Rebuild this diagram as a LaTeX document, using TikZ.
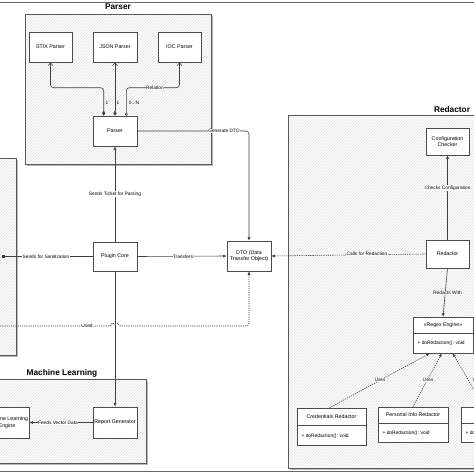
\documentclass[tikz,border=0pt]{standalone}
\usepackage{fontspec}
\setmainfont{Liberation Sans}
\usetikzlibrary{arrows.meta,patterns,calc}
\begin{document}
\begin{tikzpicture}[x=1pt,y=-1pt,
  container/.style={draw=black!65, line width=0.6pt, pattern=north east lines, pattern color=black!12},
  shadowc/.style={fill=black!28},
  box/.style={draw=black!70, fill=white, line width=0.6pt, align=center, inner sep=1pt, font=\fontsize{5.3}{6.3}\selectfont},
  lbl/.style={fill=white, inner sep=0.4pt, font=\fontsize{4.8}{5.5}\selectfont},
  ttl/.style={font=\fontsize{8.3}{9}\selectfont\bfseries},
  conn/.style={draw=black!75, line width=0.6pt},
  dconn/.style={draw=black!75, line width=0.6pt, dash pattern=on 1.2pt off 1pt},
  tip/.style={-{Latex[length=3.5pt,width=3pt]}},
]
\useasboundingbox (0,0) rectangle (474,474);
\clip (0,0) rectangle (474,474);
\fill[white] (0,0) rectangle (474,474);
% frame lines
\draw[black!60, line width=0.8pt] (0,2) -- (474,2);
\draw[black!60, line width=0.8pt] (0,471) -- (474,471);

% containers
\fill[shadowc] (27,16) rectangle (213,166);
\fill[white] (25,14) rectangle (211,164);
\draw[container] (25,14) rectangle (211,164);
\node[ttl] (tparser) at (118,7) {Parser};

\fill[shadowc] (-10,160) rectangle (18,357);
\fill[white] (-10,158) rectangle (16,355);
\draw[container] (-10,158) rectangle (16,355);

\fill[shadowc] (-10,381) rectangle (148,465);
\fill[white] (-10,379) rectangle (146,463);
\draw[container] (-10,379) rectangle (146,463);
\node[ttl] (tml) at (62,373) {Machine Learning};

\fill[shadowc] (290,117) rectangle (492,470);
\fill[white] (288,115) rectangle (490,468);
\draw[container] (288,115) rectangle (490,468);
\node[ttl] (tred) at (452,110) {Redactor};

% nodes
\node[box, minimum width=43pt, minimum height=30pt] (stix) at (50.5,47) {STIX Parser};
\node[box, minimum width=44pt, minimum height=30pt] (json) at (115,47) {JSON Parser};
\node[box, minimum width=43pt, minimum height=30pt] (ioc) at (179.5,47) {IOC Parser};
\node[box, minimum width=44pt, minimum height=30pt] (parser) at (115,131) {Parser};
\node[box, minimum width=44pt, minimum height=29pt] (plugin) at (115,256.5) {Plugin Core};
\node[box, minimum width=44pt, minimum height=30pt] (dto) at (249,256) {DTO (Data\\Transfer Object)};
\node[box, minimum width=44pt, minimum height=31pt] (report) at (115,422.5) {Report Generator};
\node[box, minimum width=44pt, minimum height=31pt] (mle) at (7,422.5) {Machine Learning\\Engine};
\node[box, minimum width=43pt, minimum height=27pt] (config) at (447.5,141.5) {Configuration\\Checker};
\node[box, minimum width=43pt, minimum height=28pt] (redactor) at (447.5,254) {Redactor};

% class boxes
\node[box, minimum width=60pt, minimum height=36pt] (regex) at (443,335) {};
\draw[black!70, line width=0.6pt] (regex.west |- 0,333) -- (regex.east |- 0,333);
\node[font=\fontsize{5.2}{6}\selectfont] (regext) at (443,325) {<<Regex Engine>>};
\node[font=\fontsize{4.9}{6}\selectfont, anchor=west] (regexm) at (414,343) {+ doRedaction(): void};

\node[box, minimum width=69pt, minimum height=37pt] (cred) at (331.5,426.5) {};
\draw[black!70, line width=0.6pt] (cred.west |- 0,425) -- (cred.east |- 0,425);
\node[font=\fontsize{5.3}{6}\selectfont] (credt) at (331.5,417) {Credentials Redactor};
\node[font=\fontsize{4.9}{6}\selectfont, anchor=west] (credm) at (298,436) {+ doRedaction(): void};

\node[box, minimum width=70pt, minimum height=35pt] (pinfo) at (413,424.5) {};
\draw[black!70, line width=0.6pt] (pinfo.west |- 0,423) -- (pinfo.east |- 0,423);
\node[font=\fontsize{5.3}{6}\selectfont] (pinfot) at (413,414.5) {Personal Info Redactor};
\node[font=\fontsize{4.9}{6}\selectfont, anchor=west] (pinfom) at (379,433) {+ doRedaction(): void};

\node[box, minimum width=70pt, minimum height=35pt] (third) at (496,424.5) {};
\draw[black!70, line width=0.6pt] (third.west |- 0,423) -- (third.east |- 0,423);
\node[font=\fontsize{4.9}{6}\selectfont, anchor=west] (thirdm) at (462,433) {+ doRedaction(): void};

% parser composition connectors
\draw[conn, {Diamond[length=5pt,width=3.2pt]}-{Straight Barb[length=3pt,width=5pt]}, rounded corners=3pt]
  ($(parser.north west)+(11,0)$) -- ($(parser.north west)+(11,-28)$) -| (stix.south);
\draw[conn, {Diamond[length=5pt,width=3.2pt]}-{Straight Barb[length=3pt,width=5pt]}]
  (parser.north) -- (json.south);
\draw[conn, {Circle[open,length=3pt,width=3pt]}-{Straight Barb[length=3pt,width=5pt]}, rounded corners=3pt]
  ($(parser.north east)+(-11,0)$) -- ($(parser.north east)+(-11,-28)$) -| (ioc.south);
\node[lbl, fill=none] (m1) at (107,103) {1};
\node[lbl, fill=none] (m2) at (118,103) {1};
\node[lbl, fill=none] (m3) at (134,103) {0...N};
\node[lbl] (lrel) at (155,88) {Relation};

% Generate DTO
\draw[conn, tip, rounded corners=3pt] (parser.east) -- (parser.east -| dto.north) -- (dto.north);
\node[lbl] (lgen) at (224,131) {Generate DTO};

% plugin core connections
\draw[conn, tip] (plugin.north) -- (parser.south);
\node[lbl] (lsend) at (115,194) {Sends Ticket for Parsing};
\coordinate (sanit) at (2,256.5);
\draw[conn, -{Square[length=2.5pt,width=2.5pt]}] (plugin.west) -- (sanit);
\node[lbl] (lsan) at (46,256.5) {Sends for Sanitization};
\draw[conn, tip] (plugin.east) -- (dto.west);
\node[lbl] (ltr) at (183,256.5) {Transfers};
\draw[conn, tip] (plugin.south) -- (report.north);
\draw[conn, tip] (report.west) -- (mle.east);
\node[lbl] (lfeed) at (58,422.5) {Feeds Vector Data};

% Used dashed line
\coordinate (usedstart) at (0,326);
\coordinate (usedcorner) at (249,326);
\draw[dconn, tip, rounded corners=3pt] (usedstart) -- (112,326) arc[start angle=180, end angle=360, radius=3] -- (usedcorner) -- (dto.south);
\node[lbl] (lused) at (87,326) {Used};

% Redactor
\draw[conn, tip] (redactor.north) -- (config.south);
\node[lbl] (lchk) at (447.5,188) {Checks Configuration};
\draw[dconn, tip] (redactor.west) -- (dto.east);
\node[lbl] (lcall) at (367,254) {Calls for Redaction};
\draw[conn, tip] (redactor.south) -- (regex.north);
\node[lbl] (lrw) at (447.5,293) {Redacts With};

% Uses
\draw[dconn, tip] ($(cred.north)+(-2,0)$) -- ($(regex.south west)+(17,0)$);
\node[lbl] (lu1) at (380,380) {Uses};
\draw[dconn, tip] ($(pinfo.north)+(0,0)$) -- ($(regex.south west)+(29,0)$);
\node[lbl] (lu2) at (428,380) {Uses};
\coordinate (thirdtop) at (480,400);
\draw[dconn, tip] (thirdtop) -- ($(regex.south west)+(40,0)$);
\node[lbl] (lu3) at (478,380) {Uses};
\end{tikzpicture}
\end{document}
